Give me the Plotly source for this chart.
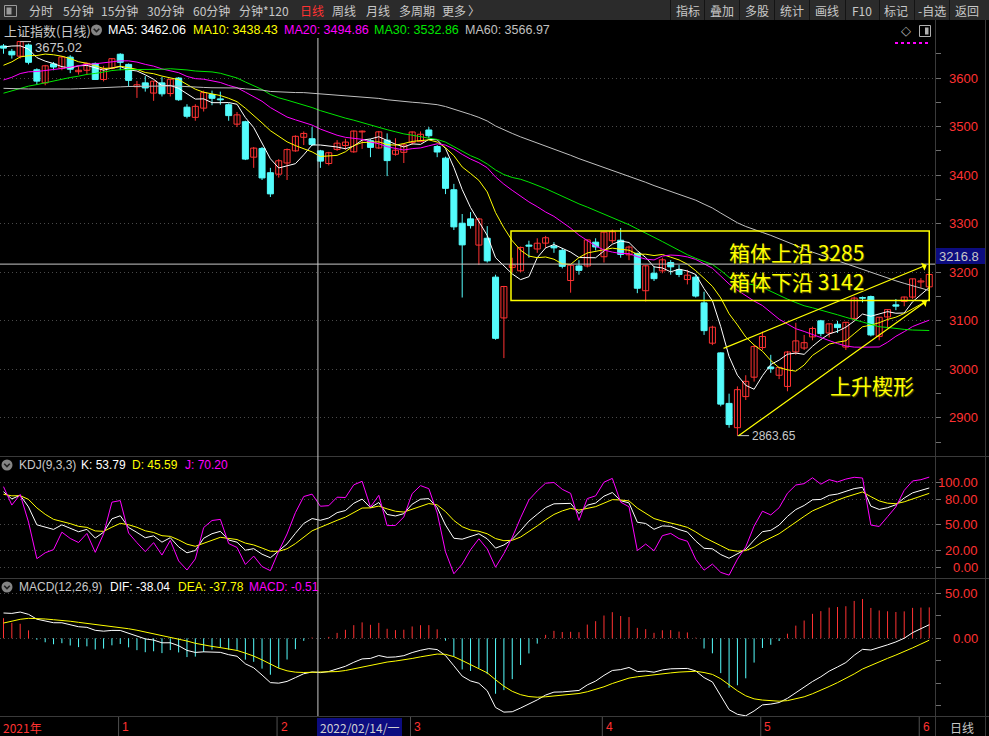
import plotly.graph_objects as go
import pandas as pd
import numpy as np

W, H = 989, 736
def X(p): return p / W
def Y(p): return 1 - p / H

# ---------------- data (SSE Composite daily, 2021-12-14 .. 2022-06-02) ----------------
prior_closes = [  # 2021-09-13 .. 2021-12-13, used only to warm up MA / KDJ / MACD
    3715.37, 3662.60, 3656.22, 3607.09, 3613.97, 3628.49, 3642.22, 3613.07, 3582.83, 3602.22, 3536.29, 3568.17,
    3592.17, 3591.71, 3546.94, 3561.76, 3558.28, 3572.37, 3568.14, 3593.15, 3587.00, 3594.78, 3582.60, 3609.86,
    3597.64, 3562.31, 3518.42, 3547.34,
    3544.48, 3505.63, 3498.54, 3526.87, 3491.57, 3498.63, 3507.00, 3492.46, 3532.79, 3539.10, 3533.30, 3521.79,
    3537.37, 3520.71, 3560.37, 3582.08, 3589.09, 3592.70, 3584.18, 3564.09, 3562.70, 3563.89,
    3576.89, 3573.84, 3607.43, 3589.31, 3595.09, 3637.57, 3673.04, 3666.35, 3681.08]

opens = [
    3666, 3655, 3645, 3668, 3617, 3590, 3629, 3620, 3643, 3613,
    3616, 3630, 3597, 3620, 3649, 3628, 3582, 3590, 3569, 3590,
    3568, 3600, 3540, 3519, 3538, 3566, 3557, 3545, 3505, 3510,
    3437, 3455, 3405, 3402, 3425, 3450, 3478, 3475, 3450, 3424,
    3453, 3461, 3448, 3489, 3471, 3456, 3472, 3443, 3447, 3467,
    3469, 3493, 3459, 3435, 3370, 3301, 3310, 3256, 3270, 3190,
    3106, 3210, 3203, 3256, 3248, 3260, 3254, 3245, 3183, 3213,
    3213, 3262, 3232, 3265, 3266, 3236, 3239, 3162, 3198, 3203,
    3220, 3205, 3185, 3190, 3137, 3054, 3034, 2930, 2880, 2944,
    2984, 3045, 3005, 2988, 2965, 3036, 3044, 3067, 3100, 3075,
    3093, 3046, 3105, 3148, 3150, 3068, 3108, 3133, 3140, 3149,
    3180, 3170]
highs = [
    3670, 3660, 3675.02, 3671, 3620, 3627, 3633, 3645, 3647, 3624,
    3632, 3632, 3625, 3641, 3651, 3630, 3594, 3604, 3594, 3602,
    3598, 3602, 3546, 3546, 3574, 3574, 3572, 3548, 3530, 3512,
    3458, 3458, 3415, 3433, 3455, 3482, 3490, 3499, 3452, 3448,
    3472, 3475, 3492, 3492, 3474, 3491, 3486, 3476, 3465, 3490,
    3490, 3499, 3462, 3438, 3382, 3320, 3324, 3312, 3295, 3195,
    3172, 3230, 3253, 3265, 3270, 3275, 3262, 3250, 3216, 3225,
    3267, 3270, 3283, 3288, 3291, 3255, 3240, 3215, 3212, 3230,
    3225, 3215, 3205, 3195, 3160, 3090, 3035, 2950, 2965, 2988,
    3050, 3078, 3030, 3005, 3038, 3096, 3071, 3088, 3102, 3095,
    3100, 3098, 3150, 3150, 3152, 3108, 3124, 3145, 3150, 3187,
    3188, 3196]
lows = [
    3650, 3640, 3640, 3628, 3586, 3585, 3616, 3616, 3610, 3607,
    3606, 3596, 3593, 3618, 3616, 3582, 3559, 3572, 3553, 3562,
    3562, 3553, 3517, 3512, 3531, 3544, 3545, 3512, 3499, 3431,
    3415, 3390, 3355, 3395, 3390, 3448, 3462, 3460, 3415, 3420,
    3450, 3452, 3446, 3454, 3437, 3454, 3398, 3440, 3425, 3462,
    3468, 3476, 3437, 3361, 3287, 3148, 3290, 3215, 3220, 3061,
    3023.3, 3200, 3200, 3230, 3240, 3250, 3240, 3208, 3158, 3195,
    3210, 3245, 3220, 3260, 3230, 3225, 3157, 3140, 3182, 3198,
    3195, 3190, 3175, 3148, 3071, 3050, 2924, 2880, 2863.65, 2937,
    2975, 3040, 2993, 2980, 2955, 3030, 3040, 3060, 3068, 3066,
    3075, 3040, 3100, 3138, 3068, 3060, 3085, 3122, 3130, 3145,
    3168, 3165]
closes = [
    3661.53, 3647.63, 3675.02, 3632.36, 3593.60, 3625.13, 3622.62, 3643.34, 3618.05, 3615.97,
    3630.11, 3597.00, 3619.19, 3639.78, 3632.33, 3595.18, 3586.08, 3579.54, 3593.52, 3567.44,
    3597.43, 3555.26, 3521.26, 3541.67, 3569.91, 3558.18, 3555.06, 3522.57, 3524.11, 3433.06,
    3455.67, 3394.25, 3361.44, 3429.58, 3452.63, 3479.95, 3485.91, 3462.95, 3428.88, 3446.09,
    3465.83, 3468.04, 3490.76, 3490.61, 3457.15, 3489.15, 3429.96, 3451.41, 3462.31, 3488.83,
    3484.19, 3481.11, 3447.65, 3372.86, 3293.53, 3256.39, 3296.09, 3309.75, 3223.53, 3063.97,
    3170.71, 3215.04, 3251.07, 3253.69, 3259.86, 3271.03, 3250.26, 3212.24, 3214.50, 3203.94,
    3266.60, 3252.20, 3282.72, 3283.43, 3236.70, 3251.85, 3167.13, 3213.33, 3186.82, 3225.64,
    3211.24, 3195.52, 3194.03, 3151.05, 3079.81, 3086.92, 2928.51, 2886.43, 2958.28, 2975.48,
    3047.06, 3067.76, 3001.56, 3004.14, 3035.84, 3058.70, 3054.99, 3084.28, 3073.75, 3093.70,
    3085.98, 3096.96, 3146.86, 3146.57, 3070.93, 3107.46, 3123.11, 3130.24, 3149.06, 3186.43,
    3182.16, 3195.46]

month_labels = ["1", "2", "3", "4", "5", "6"]
month_index = [14, 33, 49, 72, 91, 110]
cross_index = 38
cross_date = "2022/02/14/一"
cross_price = 3216.8
high_label = (2, 3675.02)
low_label = (88, 2863.65)
box_top, box_bottom = 3285, 3142
box_x = (60.85, 111.0)
wedge_upper = ((86.15, 3042.0), (110.7, 3215.0))
wedge_lower = ((87.95, 2861.0), (110.7, 3141.0))

legend_main = [("MA5: 3462.06", "#ffffff"), ("MA10: 3438.43", "#ffff00"), ("MA20: 3494.86", "#ff00ff"),
               ("MA30: 3532.86", "#00e600"), ("MA60: 3566.97", "#c0c0c0")]
legend_kdj = [("KDJ(9,3,3)", "#c8c8c8"), ("K: 53.79", "#ffffff"), ("D: 45.59", "#ffff00"), ("J: 70.20", "#ff00ff")]
legend_macd = [("MACD(12,26,9)", "#c8c8c8"), ("DIF: -38.04", "#ffffff"), ("DEA: -37.78", "#ffff00"), ("MACD: -0.51", "#ff00ff")]

price_ticks = [2900, 3000, 3100, 3200, 3300, 3400, 3500, 3600]
kdj_ticks = [0, 20, 50, 80, 100]
macd_ticks = [0, 50]

# ---------------- indicators ----------------
N = len(closes)
idx = list(range(N))
P = len(prior_closes)
allC = pd.Series(prior_closes + closes)
allH = np.array(prior_closes + highs, dtype=float)
allL = np.array(prior_closes + lows, dtype=float)

def ma(n):
    return allC.rolling(n).mean().values[P:]
mas = [(ma(5), "#ffffff"), (ma(10), "#ffff00"), (ma(20), "#ff00ff"), (ma(30), "#00e600"), (ma(60), "#c0c0c0")]

k = d = 50.0
Ks, Ds = [], []
for t in range(len(allC)):
    lo = allL[max(0, t - 8):t + 1].min()
    hi = allH[max(0, t - 8):t + 1].max()
    rsv = 50.0 if hi == lo else (allC[t] - lo) / (hi - lo) * 100
    k = 2 / 3 * k + rsv / 3
    d = 2 / 3 * d + k / 3
    Ks.append(k); Ds.append(d)
Ks = np.array(Ks)[P:]; Ds = np.array(Ds)[P:]
Js = 3 * Ks - 2 * Ds

ema12 = allC.ewm(span=12, adjust=False).mean()
ema26 = allC.ewm(span=26, adjust=False).mean()
dif = ema12 - ema26
dea = dif.ewm(span=9, adjust=False).mean()
hist = (2 * (dif - dea)).values[P:]
dif = dif.values[P:]; dea = dea.values[P:]

RED = "#ff3232"
CYAN = "#54fcfc"
GRID = "#4a4a4a"
SEP = "#3a3a3a"
TXT = "#c8c8c8"
NUMF = "Liberation Sans, Arial, Noto Sans CJK SC"
CJKF = "Noto Sans CJK SC, Liberation Sans"

fig = go.Figure()

# wicks
up = [i for i in idx if closes[i] >= opens[i]]
dn = [i for i in idx if closes[i] < opens[i]]
for sel, col in ((up, RED), (dn, CYAN)):
    xs, ys = [], []
    for i in sel:
        xs += [i, i, None]; ys += [lows[i], highs[i], None]
    fig.add_trace(go.Scatter(x=xs, y=ys, mode="lines", line=dict(color=col, width=1), hoverinfo="skip"))

# bodies
fig.add_trace(go.Bar(x=up, base=[opens[i] for i in up],
                     y=[max(closes[i] - opens[i], 0.8) for i in up], width=0.72,
                     marker=dict(color="#000000", line=dict(color=RED, width=1))))
fig.add_trace(go.Bar(x=dn, base=[closes[i] for i in dn],
                     y=[max(opens[i] - closes[i], 0.8) for i in dn], width=0.72,
                     marker=dict(color=CYAN, line=dict(color=CYAN, width=1))))

for arr, col in mas:
    fig.add_trace(go.Scatter(x=idx, y=arr, mode="lines", line=dict(color=col, width=1), hoverinfo="skip"))

# KDJ
for arr, col in ((Ks, "#ffffff"), (Ds, "#ffff00"), (Js, "#ff00ff")):
    fig.add_trace(go.Scatter(x=idx, y=arr, mode="lines", line=dict(color=col, width=1),
                             xaxis="x2", yaxis="y2", hoverinfo="skip"))

# MACD histogram
for cond, col in ((lambda v: v >= 0, RED), (lambda v: v < 0, CYAN)):
    xs, ys = [], []
    for i in idx:
        if cond(hist[i]):
            xs += [i, i, None]; ys += [0, hist[i], None]
    fig.add_trace(go.Scatter(x=xs, y=ys, mode="lines", line=dict(color=col, width=1),
                             xaxis="x3", yaxis="y3", hoverinfo="skip"))
for arr, col in ((dif, "#ffffff"), (dea, "#ffff00")):
    fig.add_trace(go.Scatter(x=idx, y=arr, mode="lines", line=dict(color=col, width=1),
                             xaxis="x3", yaxis="y3", hoverinfo="skip"))

# ---------------- layout ----------------
xr = [-0.42, 111.69]
xcommon = dict(domain=[0, X(935)], range=xr, visible=False, fixedrange=True)
ycommon = dict(side="right", showgrid=True, gridcolor=GRID, griddash="1px,3px", gridwidth=1,
               showticklabels=False, ticks="outside", ticklen=5, tickcolor="#707070",
               zeroline=False, showline=False, fixedrange=True)

shapes = []
annotations = []

def line_px(x0, y0, x1, y1, color, width=1, dash=None):
    shapes.append(dict(type="line", xref="paper", yref="paper", x0=X(x0), y0=Y(y0), x1=X(x1), y1=Y(y1),
                       line=dict(color=color, width=width, dash=dash)))

def rect_px(x0, y0, x1, y1, fill, line=None):
    shapes.append(dict(type="rect", xref="paper", yref="paper", x0=X(x0), y0=Y(y0), x1=X(x1), y1=Y(y1),
                       fillcolor=fill, line=dict(color=line or fill, width=1 if line else 0), layer="above"))

def text_px(t, x, y, color=TXT, size=12, anchor="left", family=CJKF):
    annotations.append(dict(text=t, x=X(x), y=Y(y), xref="paper", yref="paper", showarrow=False,
                            xanchor=anchor, yanchor="middle", font=dict(color=color, size=size, family=family)))

# toolbar
rect_px(0, 0, 989, 20, "#2b2b2b")
rect_px(4.5, 5.5, 16.5, 16.5, "#2b2b2b", "#9a9a9a")
rect_px(6.5, 7.5, 11.5, 14.5, "#9a9a9a")
tb = [("分时", 27), ("5分钟", 61), ("15分钟", 99), ("30分钟", 145), ("60分钟", 191), ("分钟*120", 237),
      ("日线", 298), ("周线", 330), ("月线", 364), ("多周期", 397), ("更多", 440), ("〉", 466)]
for t, x in tb:
    text_px(t, x, 10.5, RED if t == "日线" else TXT, 12)
for x in [670.5, 704.5, 739.5, 774.5, 809.5, 845.5, 879.5, 914.5, 949.5]:
    line_px(x, 0, x, 20, "#141414")
for t, x in [("指标", 688), ("叠加", 722), ("多股", 757), ("统计", 792), ("画线", 827), ("F10", 862),
             ("标记", 896), ("-自选", 932), ("返回", 967)]:
    text_px(t, x, 10.5, TXT, 12, anchor="center")

# separators
line_px(935.5, 20, 935.5, 736, SEP)
line_px(985.5, 20, 985.5, 736, SEP)
for yy in (456.5, 578.5, 716.5):
    line_px(0, yy, 989, yy, SEP)

# legend rows
def chevron(cx, cy):
    shapes.append(dict(type="circle", xref="paper", yref="paper", x0=X(cx - 5.5), y0=Y(cy + 5.5),
                       x1=X(cx + 5.5), y1=Y(cy - 5.5), fillcolor="#858585", line=dict(width=0)))
    shapes.append(dict(type="path", xref="paper", yref="paper",
                       path=f"M {X(cx-2.8)},{Y(cy-1.2)} L {X(cx)},{Y(cy+1.6)} L {X(cx+2.8)},{Y(cy-1.2)}",
                       line=dict(color="#202020", width=1.6)))

text_px("上证指数(日线)", 2, 30, TXT, 13)
chevron(96.5, 30)
for (t, c), x in zip(legend_main, [106, 191, 282, 372, 463]):
    text_px(t, x, 30, c, 12.5, family=NUMF)
chevron(7, 465)
for (t, c), x in zip(legend_kdj, [17, 79, 130, 183]):
    text_px(t, x, 465, c, 12, family=NUMF)
chevron(7, 587)
for (t, c), x in zip(legend_macd, [17, 108, 176, 247]):
    text_px(t, x, 587, c, 12, family=NUMF)

# top-right icons
text_px("◇", 906, 30, "#b0b0b0", 13, anchor="center", family="DejaVu Sans")
rect_px(919.5, 25.5, 930.5, 36.5, "#000000", "#b0b0b0")
rect_px(925, 27.5, 928.5, 34.5, "#b0b0b0")
line_px(895, 43, 930, 43, "#ff00ff", 2, "dot")

# right axis labels
for v in price_ticks:
    annotations.append(dict(text=str(v), x=X(980), y=v, xref="paper", yref="y", showarrow=False,
                            xanchor="right", yanchor="middle", font=dict(color=RED, size=13, family=NUMF)))
for v in kdj_ticks:
    annotations.append(dict(text=f"{v:.2f}", x=X(980), y=v, xref="paper", yref="y2", showarrow=False,
                            xanchor="right", yanchor="middle", font=dict(color=RED, size=13, family=NUMF)))
for v in macd_ticks:
    annotations.append(dict(text=f"{v:.2f}", x=X(980), y=v, xref="paper", yref="y3", showarrow=False,
                            xanchor="right", yanchor="middle", font=dict(color=RED, size=13, family=NUMF)))

# crosshair
shapes.append(dict(type="line", xref="x", yref="paper", x0=cross_index - 0.3, x1=cross_index - 0.3,
                   y0=Y(716), y1=Y(38), line=dict(color="#c8c8c8", width=1)))
shapes.append(dict(type="line", xref="paper", yref="y", x0=0, x1=X(935), y0=cross_price, y1=cross_price,
                   line=dict(color="#c8c8c8", width=1)))
shapes.append(dict(type="rect", xref="paper", yref="y", x0=X(936), x1=X(985), y0=cross_price,
                   y1=cross_price + 33, fillcolor="#0c0c80", line=dict(width=0)))
annotations.append(dict(text=f"{cross_price}", x=X(937), y=cross_price + 16.5, xref="paper", yref="y",
                        showarrow=False, xanchor="left", yanchor="middle",
                        font=dict(color="#c8c8c8", size=13, family=NUMF)))

# box and wedge
shapes.append(dict(type="rect", xref="x", yref="y", x0=box_x[0], x1=box_x[1], y0=box_bottom, y1=box_top,
                   line=dict(color="#ffff00", width=1.5), fillcolor="rgba(0,0,0,0)"))
for (a, b) in (wedge_upper, wedge_lower):
    annotations.append(dict(x=b[0], y=b[1], ax=a[0], ay=a[1], xref="x", yref="y", axref="x", ayref="y",
                            text="", showarrow=True, arrowhead=1, arrowsize=1.2, arrowwidth=1.2,
                            arrowcolor="#ffff00"))
yfont = dict(color="#ffff00", size=21, family=CJKF, shadow="1px 1px 1px #505000")
annotations.append(dict(text=f"箱体上沿 {box_top}", x=X(727), y=Y(252), xref="paper", yref="paper",
                        showarrow=False, xanchor="left", yanchor="middle", font=yfont))
annotations.append(dict(text=f"箱体下沿 {box_bottom}", x=X(727), y=Y(281), xref="paper", yref="paper",
                        showarrow=False, xanchor="left", yanchor="middle", font=yfont))
annotations.append(dict(text="上升楔形", x=X(828), y=Y(385), xref="paper", yref="paper",
                        showarrow=False, xanchor="left", yanchor="middle", font=yfont))

# high / low labels
hi_i, hi_v = high_label
shapes.append(dict(type="line", xref="x", yref="y", x0=hi_i, x1=hi_i + 1.3, y0=hi_v, y1=hi_v,
                   line=dict(color="#c8c8c8", width=1)))
annotations.append(dict(text=f"{hi_v:.2f}", x=hi_i + 1.5, y=hi_v - 12, xref="x", yref="y", showarrow=False,
                        xanchor="left", yanchor="middle", font=dict(color="#c8c8c8", size=13, family=NUMF)))
lo_i, lo_v = low_label
shapes.append(dict(type="line", xref="x", yref="y", x0=lo_i, x1=lo_i + 1.4, y0=lo_v, y1=lo_v,
                   line=dict(color="#c8c8c8", width=1)))
annotations.append(dict(text=f"{lo_v:.2f}", x=lo_i + 1.5, y=lo_v, xref="x", yref="y", showarrow=False,
                        xanchor="left", yanchor="middle", font=dict(color="#c8c8c8", size=12, family=NUMF)))

# bottom axis
text_px("2021年", 1, 727, RED, 12)
for lab, i in zip(month_labels, month_index):
    shapes.append(dict(type="line", xref="x", yref="paper", x0=i - 0.2, x1=i - 0.2, y0=Y(736), y1=Y(717),
                       line=dict(color="#505050", width=1)))
    annotations.append(dict(text=lab, x=i, y=Y(727), xref="x", yref="paper", showarrow=False,
                            xanchor="left", yanchor="middle", font=dict(color=RED, size=12, family=NUMF)))
shapes.append(dict(type="rect", xref="paper", yref="paper", x0=X(317), x1=X(402), y0=Y(736), y1=Y(718),
                   fillcolor="#0c0c80", line=dict(width=0), layer="above"))
annotations.append(dict(text=cross_date, x=X(359.5), y=Y(727), xref="paper", yref="paper", showarrow=False,
                        xanchor="center", yanchor="middle", font=dict(color="#d0d0d0", size=12, family=CJKF)))
text_px("日线", 948, 727, TXT, 12)

fig.update_layout(
    width=W, height=H, margin=dict(l=0, r=0, t=0, b=0),
    paper_bgcolor="#000000", plot_bgcolor="#000000", showlegend=False, barmode="overlay",
    hovermode=False,
    xaxis=dict(**xcommon, anchor="y"),
    xaxis2=dict(**xcommon, anchor="y2", matches="x"),
    xaxis3=dict(**xcommon, anchor="y3", matches="x"),
    yaxis=dict(**ycommon, domain=[Y(456), Y(38)], range=[2821.7, 3682.4], tickvals=price_ticks,
               minor=dict(tickvals=[2850, 2950, 3050, 3150, 3250, 3350, 3450, 3550, 3650], ticks="outside",
                          ticklen=5, tickcolor="#707070", showgrid=False)),
    yaxis2=dict(**ycommon, domain=[Y(578), Y(456)], range=[-12.6, 130.9], tickvals=kdj_ticks),
    yaxis3=dict(**ycommon, domain=[Y(716), Y(578)], range=[-86.3, 67.0], tickvals=macd_ticks,
                minor=dict(tickvals=[-75, -50, -25, 25], ticks="outside", ticklen=5, tickcolor="#707070",
                           showgrid=False)),
    shapes=shapes, annotations=annotations,
)

fig.write_html("out.html")
